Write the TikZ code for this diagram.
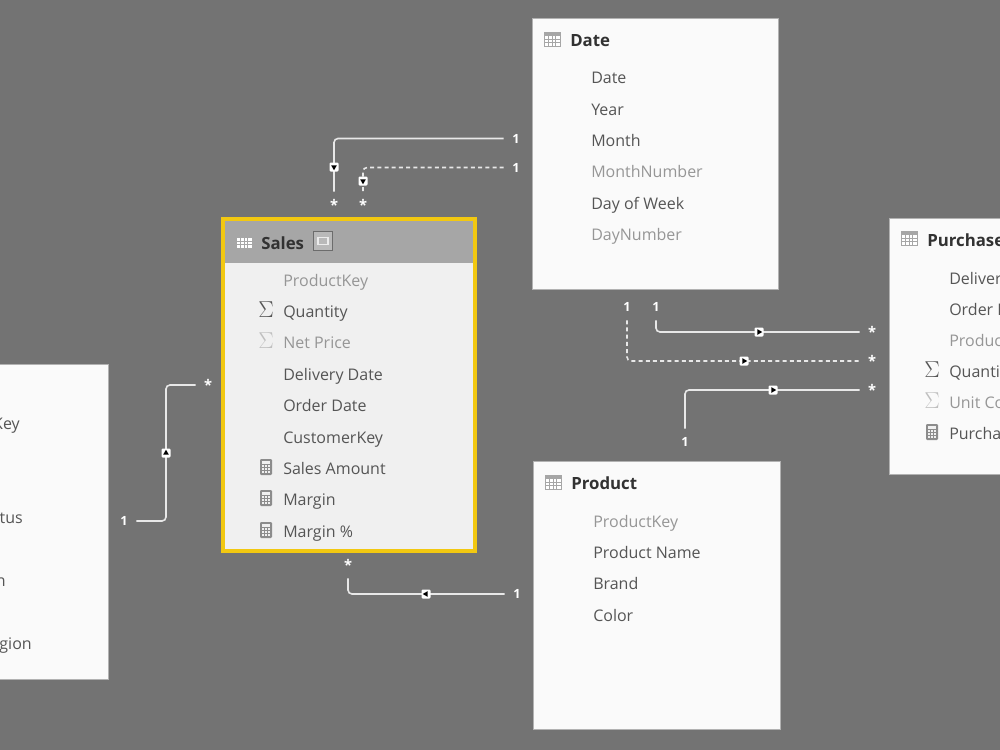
\documentclass[tikz,border=0pt]{standalone}
\usepackage{fontspec}
\usepackage{amsmath}
\setmainfont{Open Sans}
\usetikzlibrary{
    positioning,
    shapes.geometric
}
\definecolor{canvasGray}{RGB}{115,115,115}
\definecolor{cardWhite}{RGB}{250,250,250}
\definecolor{cardBody}{RGB}{240,240,240}
\definecolor{headGray}{RGB}{166,166,166}
\definecolor{frameYellow}{RGB}{242,200,17}
\definecolor{fieldInk}{RGB}{85,85,85}
\definecolor{hiddenInk}{RGB}{150,150,150}
\definecolor{titleInk}{RGB}{50,50,50}
\definecolor{relLine}{RGB}{232,232,232}
\tikzset{
  tablecard/.style = {draw=gray!60, fill=cardWhite, anchor=north west, inner sep=0pt, outer sep=0pt, line width=0.5pt},
  tabletitle/.style = {anchor=west, inner sep=0pt, font=\fontsize{12.6}{14}\selectfont\bfseries, text=titleInk, yshift=-0.4pt},
  field/.style     = {anchor=west, inner sep=0pt, font=\fontsize{12}{14}\selectfont, text=fieldInk,
                      text height=9pt, text depth=3pt, yshift=-1.8pt},
  fieldhid/.style  = {field, text=hiddenInk},
  sumsign/.style   = {inner sep=0pt, font=\LARGE, text=fieldInk},
  sumhid/.style    = {sumsign, text=gray!50},
  endmark/.style   = {inner sep=0pt, minimum width=24*0.75pt, minimum height=26*0.75pt,
                      font=\fontsize{9.5}{10}\selectfont\bfseries, text=white},
  starmark/.style  = {endmark, font=\fontsize{11}{10}\selectfont\bfseries},
  rel/.style       = {draw=relLine, line width=1.2pt, rounded corners=3pt},
  reldash/.style   = {rel, dash pattern=on 3pt off 2.4pt},
  relbox/.style    = {draw=none, fill=white, rounded corners=0.8pt, minimum size=9*0.75pt, inner sep=0pt},
  reltri/.style    = {regular polygon, regular polygon sides=3, fill=black, minimum size=6.5*0.75pt, inner sep=0pt},
  tableicon/.pic   = {
    \fill[gray!70] (-8.5,-7.5) rectangle (8.5,7.5);
    \fill[white] (-7.5,-3) rectangle (7.5,6.5);
    \foreach \cx in {-3.7,0,3.7} \draw[gray!70, line width=0.5pt] (\cx,-3) -- (\cx,6.5);
    \foreach \cy in {0,3.2} \draw[gray!70, line width=0.5pt] (-7.5,\cy) -- (7.5,\cy);
  },
  calcicon/.pic    = {
    \fill[gray!90, rounded corners=0.8pt] (-6,-8) rectangle (6,8);
    \fill[cardBody] (-4,-6) rectangle (4,-3);
    \foreach \cx in {-3,0,3} \foreach \cy in {-1,2,5}
      \fill[cardBody] (\cx-1,\cy-0.9) rectangle (\cx+1,\cy+0.9);
  }
}

\begin{document}
\begin{tikzpicture}[x=0.75pt, y=-0.75pt]
    \useasboundingbox (0,0) rectangle (1000,750);
    \clip (0,0) rectangle (1000,750);
    \fill[canvasGray] (0,0) rectangle (1000,750);

    % Date table
    \node[tablecard, minimum width=246*0.75pt, minimum height=271*0.75pt] (datecard) at (532,18) {};
    \pic at (552,39) {tableicon};
    \node[tabletitle] (datetitle) at (570,40) {Date};
    \foreach \nm/\y/\lbl/\sty in {a/77/Date/field, b/109/Year/field, c/140/Month/field,
        d/171/MonthNumber/fieldhid, e/203/Day of Week/field, f/234/DayNumber/fieldhid}
      \node[\sty] (date\nm) at (591,\y) {\lbl};

    % Sales table
    \node[tablecard, draw=none, fill=cardBody,
          minimum width=252*0.75pt, minimum height=332*0.75pt] (salescard) at (222.8,218.8) {};
    \node[anchor=north west, fill=headGray, inner sep=0pt, minimum width=252*0.75pt,
          minimum height=43.5*0.75pt] (saleshead) at (222.8,218.8) {};
    \draw[frameYellow, line width=3.6*0.75pt] (salescard.north west) rectangle (salescard.south east);
    \pic at (244,241) {tableicon};
    \node[tabletitle] (salestitle) at (261,243) {Sales};
    \node[draw=gray!85!black, fill=gray!55, line width=0.8pt, minimum size=19*0.75pt, inner sep=0pt] (salesbtn) at (323,241) {};
    \node[draw=white!85!gray, line width=0.8pt, minimum width=10*0.75pt, minimum height=7*0.75pt, inner sep=0pt] (salesbtnin) at (323,241) {};
    \foreach \nm/\y/\lbl/\sty in {a/280/ProductKey/fieldhid, b/311/Quantity/field, c/342/Net Price/fieldhid,
        d/374/Delivery Date/field, e/405/Order Date/field, f/437/CustomerKey/field,
        g/468/Sales Amount/field, h/499/Margin/field, i/531/Margin \%/field}
      \node[\sty] (sales\nm) at (283,\y) {\lbl};
    \node[sumsign] (salessumb) at (266,310) {$\Sigma$};
    \node[sumhid] (salessumc) at (266,341) {$\Sigma$};
    \foreach \y in {467,498,530}
      \pic at (266,\y) {calcicon};

    % Product table
    \node[tablecard, minimum width=247*0.75pt, minimum height=268*0.75pt] (prodcard) at (533,461) {};
    \pic at (553,482) {tableicon};
    \node[tabletitle] (prodtitle) at (571,483) {Product};
    \foreach \nm/\y/\lbl/\sty in {a/521/ProductKey/fieldhid, b/552/Product Name/field,
        c/583/Brand/field, d/615/Color/field}
      \node[\sty] (prod\nm) at (593,\y) {\lbl};

    % Purchases table
    \node[tablecard, minimum width=171*0.75pt, minimum height=256*0.75pt] (purchcard) at (889,218) {};
    \pic at (909,238) {tableicon};
    \node[tabletitle] (purchtitle) at (927,240) {Purchases};
    \foreach \nm/\y/\lbl/\sty in {a/278/Delivery Date/field, b/309/Order Date/field, c/340/ProductKey/fieldhid,
        d/371/Quantity/field, e/402/Unit Cost/fieldhid, f/433/Purchase Amount/field}
      \node[\sty] (purch\nm) at (949,\y) {\lbl};
    \node[sumsign] (purchsumd) at (932,370) {$\Sigma$};
    \node[sumhid] (purchsume) at (932,401) {$\Sigma$};
    \pic at (932,432) {calcicon};

    % Customer table, cut by the left edge
    \node[tablecard, minimum width=168*0.75pt, minimum height=315*0.75pt] (custcard) at (-60,364) {};
    \foreach \nm/\xe/\y/\lbl in {a/20/423/Key, b/23/517/tus, c/6/580/n, d/32/643/gion}
      \node[field, anchor=east] (cust\nm) at (\xe,\y) {\lbl};

    % Relationship ends
    \foreach \nm/\x/\y/\lbl in {onea/516/138.5/1, oneb/516/167.5/1, onec/656/307/1, oned/627/307/1,
        onee/685/442/1, onef/124/521/1, oneg/517/594/1}
      \node[endmark] (\nm) at (\x,\y) {\lbl};
    \foreach \nm/\x/\y in {stara/334/205, starb/363/205, starc/872/332, stard/872/361,
        stare/872/390, starf/208/385, starg/348/565}
      \node[starmark] (\nm) at (\x,\y) {*};
    \coordinate (bendf) at (166,453);

    % Connectors
    \draw[rel] (onea.west) -| (stara.north);
    \draw[reldash] (oneb.west) -| (starb.north);
    \draw[rel] (onec.south) |- (starc.west);
    \draw[reldash] (oned.south) |- (stard.west);
    \draw[rel] (onee.north) |- (stare.west);
    \draw[rel] (onef.east) -| (bendf) |- (starf.west);
    \draw[rel] (oneg.west) -| (starg.south);

    % Direction marks
    \foreach \nm/\x/\y/\ang in {a/334/167/180, b/363/181/180, c/759/332/-90, d/744/361/-90,
        e/773/390/-90, f/166/453/0, g/426/594/90} {
      \node[relbox] (mark\nm) at (\x,\y) {};
      \node[reltri, rotate=\ang] (tri\nm) at (mark\nm) {};
    }
  \end{tikzpicture}
\end{document}
